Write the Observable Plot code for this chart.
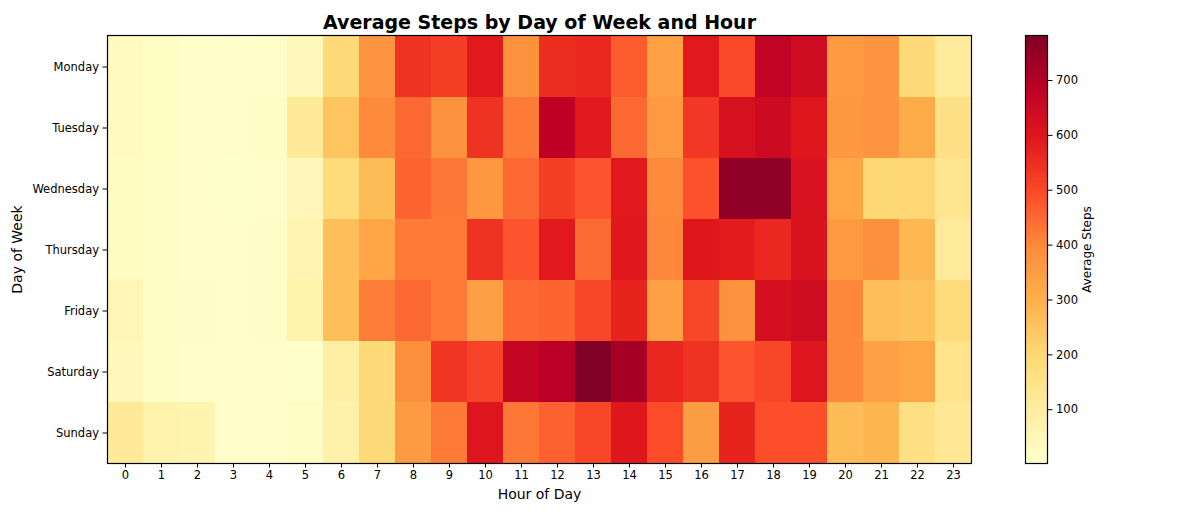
<!DOCTYPE html>
<html>
<head>
<meta charset="utf-8">
<script src="https://cdn.jsdelivr.net/npm/d3@7"></script>
<script src="https://cdn.jsdelivr.net/npm/@observablehq/plot@0.6"></script>
<style>
  html, body { margin: 0; padding: 0; background: #fff; }
  #chart { position: relative; width: 1200px; height: 514px; }
  #chart svg { position: absolute; left: 0; top: 0; overflow: visible; }
</style>
</head>
<body>
<div id="chart"></div>
<script>
// Categories
const days = ["Monday", "Tuesday", "Wednesday", "Thursday", "Friday", "Saturday", "Sunday"];
const hours = [0, 1, 2, 3, 4, 5, 6, 7, 8, 9, 10, 11, 12, 13, 14, 15, 16, 17, 18, 19, 20, 21, 22, 23];

// Average steps per hour, one array per weekday
const monday    = [30, 20, 10, 5, 10, 40, 190, 370, 540, 520, 590, 380, 550, 560, 470, 340, 590, 500, 675, 640, 360, 370, 190, 110];
const tuesday   = [30, 20, 8, 5, 15, 115, 250, 395, 450, 380, 540, 420, 680, 590, 450, 360, 530, 620, 645, 600, 365, 370, 310, 160];
const wednesday = [25, 15, 10, 2, 8, 45, 185, 270, 455, 425, 365, 450, 520, 480, 590, 395, 485, 755, 755, 615, 330, 200, 205, 140];
const thursday  = [25, 15, 10, 5, 12, 60, 265, 330, 420, 420, 540, 480, 590, 445, 595, 400, 600, 585, 560, 610, 360, 385, 280, 110];
const friday    = [50, 15, 12, 5, 12, 75, 265, 415, 450, 420, 345, 450, 455, 505, 570, 340, 505, 380, 625, 640, 400, 265, 255, 185];
const saturday  = [40, 15, 10, 5, 5, 3, 90, 190, 385, 535, 510, 665, 690, 782, 720, 565, 540, 480, 505, 605, 400, 340, 330, 145];
const sunday    = [115, 70, 65, 5, 10, 15, 80, 190, 355, 420, 605, 425, 460, 505, 600, 495, 350, 570, 490, 490, 270, 285, 165, 130];

// Colour bar tick labels
const colorbarTicks = [100, 200, 300, 400, 500, 600, 700];

// YlOrRd stops, interpolated linearly in RGB
const ylOrRd = ["#ffffcc", "#ffeda0", "#fed976", "#feb24c", "#fd8d3c", "#fc4e2a", "#e31a1c", "#bd0026", "#800026"];
const interpolate = d3.piecewise(d3.interpolateRgb, ylOrRd);

const series = [monday, tuesday, wednesday, thursday, friday, saturday, sunday];
const cells = days.flatMap((day, i) => hours.map((hour, j) => ({day, hour, value: series[i][j]})));
const [vmin, vmax] = d3.extent(cells, d => d.value);

const W = 1200, H = 514;
const font = "DejaVu Sans, sans-serif";

const heatmap = Plot.plot({
  width: W,
  height: H,
  marginLeft: 107,
  marginRight: 229,
  marginTop: 35,
  marginBottom: 51,
  style: {fontFamily: font, fontSize: "11.5px", color: "#000", background: "#fff"},
  x: {type: "band", domain: hours, padding: 0, label: null},
  y: {type: "band", domain: days, padding: 0, label: null},
  color: {type: "linear", domain: [vmin, vmax], interpolate},
  marks: [
    Plot.cell(cells, {x: "hour", y: "day", fill: "value"}),
    Plot.axisX({tickSize: 4.5, tickPadding: 3, stroke: "#000"}),
    Plot.axisY({tickSize: 4.5, tickPadding: 4, stroke: "#000"}),
    Plot.frame({stroke: "#000", strokeWidth: 1.2}),
    Plot.text(["Average Steps by Day of Week and Hour"], {
      frameAnchor: "top", dy: -13, lineAnchor: "middle", textAnchor: "middle",
      fontSize: 19, fontWeight: "bold", fill: "#000"
    }),
    Plot.text(["Hour of Day"], {frameAnchor: "bottom", dy: 31, lineAnchor: "middle", textAnchor: "middle", fontSize: 14, fill: "#000"}),
    Plot.text(["Day of Week"], {frameAnchor: "left", dx: -90, rotate: -90, lineAnchor: "middle", textAnchor: "middle", fontSize: 14, fill: "#000"})
  ]
});

// Vertical colour bar sharing the heatmap's colour scale
const steps = 400;
const slices = d3.range(steps).map(i => {
  const a = vmin + (vmax - vmin) * i / steps;
  const b = vmin + (vmax - vmin) * (i + 1) / steps;
  return {a, b, mid: (a + b) / 2};
});

const colorbar = Plot.plot({
  width: W,
  height: H,
  marginLeft: 1025,
  marginRight: 153,
  marginTop: 35,
  marginBottom: 51,
  style: {fontFamily: font, fontSize: "11.5px", color: "#000", background: "transparent"},
  y: {type: "linear", domain: [vmin, vmax], label: null},
  color: {type: "linear", domain: [vmin, vmax], interpolate},
  marks: [
    Plot.rect(slices, {y1: "a", y2: "b", fill: "mid", shapeRendering: "crispEdges"}),
    Plot.axisY({anchor: "right", ticks: colorbarTicks, tickSize: 4.5, tickPadding: 4, stroke: "#000", label: null}),
    Plot.frame({stroke: "#000", strokeWidth: 1.2}),
    Plot.text(["Average Steps"], {frameAnchor: "right", dx: 40, rotate: -90, lineAnchor: "middle", textAnchor: "middle", fontSize: 12, fill: "#000"})
  ]
});

const chart = document.getElementById("chart");
chart.append(heatmap);
chart.append(colorbar);
</script>
</body>
</html>
